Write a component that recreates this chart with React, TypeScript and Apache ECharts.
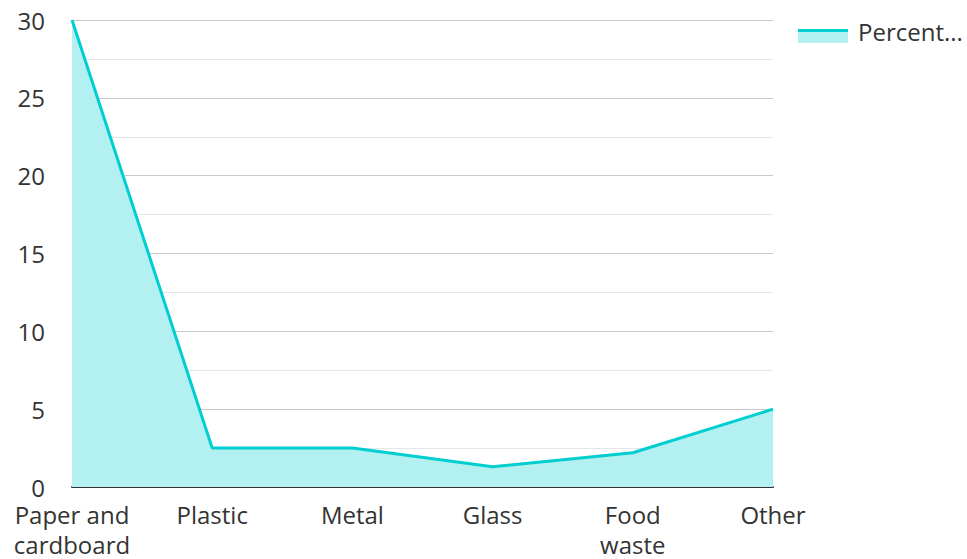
import React, { useEffect, useRef } from "react";
import * as echarts from "echarts";

const categories = ["Paper and\ncardboard", "Plastic", "Metal", "Glass", "Food\nwaste", "Other"];
const percentValues = [30, 2.5, 2.5, 1.3, 2.2, 5];
const seriesName = "Percentage of waste";
const legendLabel = "Percent...";

const LINE = "#00CED1";
const FILL = "#b3f0f1";
const FONT = "'Open Sans', 'Noto Sans', sans-serif";

export default function App() {
  const ref = useRef<HTMLDivElement>(null);
  useEffect(() => {
    if (!ref.current) return;
    const chart = echarts.init(ref.current, null, { renderer: "svg" });
    chart.setOption({
      animation: false,
      textStyle: { fontFamily: FONT },
      grid: { left: 72, right: 194, top: 20, bottom: 72, outerBoundsMode: "none", containLabel: false },
      legend: {
        left: 798,
        top: 19,
        padding: 0,
        icon: "rect",
        itemWidth: 50,
        itemHeight: 14,
        itemGap: 10,
        formatter: () => legendLabel,
        itemStyle: { color: "rgba(0,0,0,0)" },
        textStyle: { fontSize: 24, color: "#333", fontFamily: FONT, padding: [0, 0, 0, 5] },
        data: [seriesName],
      },
      graphic: [
        {
          type: "rect",
          shape: { x: 798, y: 29, width: 50, height: 14 },
          style: { fill: FILL },
          silent: true,
          z: 100,
        },
        {
          type: "line",
          shape: { x1: 798, y1: 30.5, x2: 848, y2: 30.5 },
          style: { stroke: LINE, lineWidth: 3 },
          silent: true,
          z: 101,
        },
      ],
      xAxis: {
        type: "category",
        data: categories,
        boundaryGap: false,
        axisLine: { show: true, lineStyle: { color: "#333", width: 2 } },
        axisTick: { show: false },
        axisLabel: { fontSize: 24, color: "#333", margin: 12, lineHeight: 30, fontFamily: FONT, interval: 0 },
        splitLine: { show: false },
      },
      yAxis: {
        type: "value",
        min: 0,
        max: 30,
        interval: 5,
        axisLine: { show: false },
        axisTick: { show: false },
        axisLabel: { fontSize: 24, color: "#333", margin: 27, lineHeight: 18, fontFamily: FONT },
        splitLine: { show: true, lineStyle: { color: "#c8c8c8", width: 1 } },
        minorTick: { show: false, splitNumber: 2 },
        minorSplitLine: { show: true, lineStyle: { color: "#e6e6e6", width: 1 } },
      },
      series: [
        {
          name: seriesName,
          type: "line",
          data: percentValues,
          symbol: "none",
          lineStyle: { color: LINE, width: 3 },
          itemStyle: { color: LINE },
          areaStyle: { color: FILL, opacity: 1 },
        },
      ],
    });
    return () => chart.dispose();
  }, []);
  return <div ref={ref} style={{ width: 967, height: 559, position: "absolute", left: 0, top: 0 }} />;
}
